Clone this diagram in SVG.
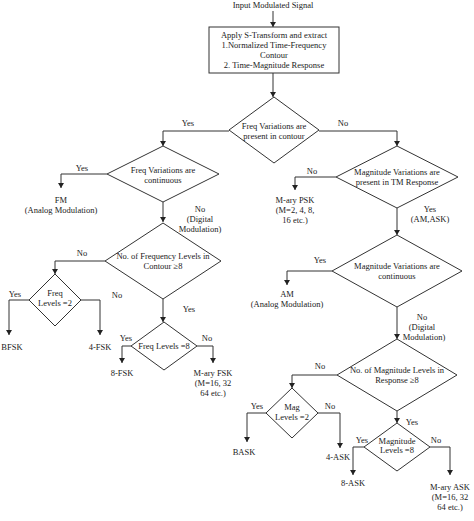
<svg xmlns="http://www.w3.org/2000/svg" width="474" height="521" viewBox="0 0 474 521">
<defs>
<style>
text{font-family:"Liberation Serif","Times New Roman",serif;font-size:8.5px;fill:#1a1a1a;text-anchor:middle}
.n{fill:#fff;stroke:#333;stroke-width:1}
.c{fill:none;stroke:#333;stroke-width:1;marker-end:url(#ah)}
</style>
<marker id="ah" markerUnits="userSpaceOnUse" markerWidth="6" markerHeight="6" refX="5" refY="3" orient="auto">
<path d="M0,0 L5,3 L0,6 z" fill="#222"/>
</marker>
</defs>
<rect width="474" height="521" fill="#fff"/>
<g id="connectors">
<polyline class="c" points="273,11 273,27"/>
<polyline class="c" points="273,73 273,97"/>
<polyline class="c" points="229,131 163,131 163,146"/>
<polyline class="c" points="107,174 61,174 61,188"/>
<polyline class="c" points="163,202 163,222"/>
<polyline class="c" points="105,261 55,261 55,274"/>
<polyline class="c" points="29,300 9,300 9,335"/>
<polyline class="c" points="81,300 100,300 100,335"/>
<polyline class="c" points="163,299 163,322"/>
<polyline class="c" points="131,346 122,346 122,363"/>
<polyline class="c" points="197,346 213,346 213,363"/>
<polyline class="c" points="319,131 397,131 397,146"/>
<polyline class="c" points="336,177 295,177 295,190"/>
<polyline class="c" points="397,208 397,235"/>
<polyline class="c" points="332,271 287,271 287,285"/>
<polyline class="c" points="397,307 397,339"/>
<polyline class="c" points="337,375 292,375 292,388"/>
<polyline class="c" points="266,413 247,413 247,442"/>
<polyline class="c" points="318,413 340,413 340,448"/>
<polyline class="c" points="397,411 397,423"/>
<polyline class="c" points="364,447 353,447 353,475"/>
<polyline class="c" points="430,447 450,447 450,475"/>
</g>
<g id="labels">
<text x="188" y="126">Yes</text>
<text x="343" y="126">No</text>
<text x="82" y="171">Yes</text>
<text x="200" y="212">No</text>
<text x="200" y="222">(Digital</text>
<text x="200" y="232">Modulation)</text>
<text x="82" y="256">No</text>
<text x="15" y="297">Yes</text>
<text x="117" y="298">No</text>
<text x="189" y="312">Yes</text>
<text x="126" y="341">Yes</text>
<text x="207" y="341">No</text>
<text x="312" y="174">No</text>
<text x="430" y="212">Yes</text>
<text x="430" y="222">(AM,ASK)</text>
<text x="320" y="263">Yes</text>
<text x="422" y="320">No</text>
<text x="422" y="330">(Digital</text>
<text x="424" y="340">Modulation)</text>
<text x="320" y="369">No</text>
<text x="412" y="425">Yes</text>
<text x="257" y="409">Yes</text>
<text x="330" y="409">No</text>
<text x="362" y="443">Yes</text>
<text x="436" y="443">No</text>
</g>
<g id="input"><text x="273" y="8">Input Modulated Signal</text></g>
<g id="transform">
<rect class="n" x="209" y="27" width="130" height="46"/>
<text x="274" y="38">Apply S-Transform and extract</text>
<text x="274" y="48">1.Normalized Time-Frequency</text>
<text x="274" y="58">Contour</text>
<text x="274" y="68">2. Time-Magnitude Response</text>
</g>
<g id="d-freq-present">
<polygon class="n" points="274,97 319,130 274,163 229,130"/>
<text x="274" y="129">Freq Variations are</text>
<text x="274" y="139">present in contour</text>
</g>
<g id="d-freq-cont">
<polygon class="n" points="163,146 219,174 163,202 107,174"/>
<text x="163" y="173">Freq Variations are</text>
<text x="163" y="183">continuous</text>
</g>
<g id="fm"><text x="61" y="203">FM</text><text x="61" y="213">(Analog Modulation)</text></g>
<g id="d-freq-levels">
<polygon class="n" points="163,223 221,261 163,299 105,261"/>
<text x="163" y="259">No. of Frequency Levels in</text>
<text x="163" y="269">Contour ≥8</text>
</g>
<g id="d-freq2">
<polygon class="n" points="55,274 81,300 55,326 29,300"/>
<text x="55" y="296">Freq</text>
<text x="55" y="306">Levels =2</text>
</g>
<g id="bfsk"><text x="12" y="350">BFSK</text></g>
<g id="fsk4"><text x="100" y="350">4-FSK</text></g>
<g id="d-freq8">
<polygon class="n" points="164,322 197,346 164,370 131,346"/>
<text x="164" y="349">Freq Levels =8</text>
</g>
<g id="fsk8"><text x="122" y="376">8-FSK</text></g>
<g id="mfsk"><text x="213" y="376">M-ary FSK</text><text x="213" y="386">(M=16, 32</text><text x="213" y="396">64 etc.)</text></g>
<g id="d-mag-present">
<polygon class="n" points="397,146 458,177 397,208 336,177"/>
<text x="397" y="175">Magnitude Variations are</text>
<text x="397" y="185">present in TM Response</text>
</g>
<g id="mpsk"><text x="295" y="203">M-ary PSK</text><text x="295" y="213">(M=2, 4, 8,</text><text x="295" y="223">16 etc.)</text></g>
<g id="d-mag-cont">
<polygon class="n" points="397,235 462,271 397,307 332,271"/>
<text x="397" y="269">Magnitude Variations are</text>
<text x="397" y="279">continuous</text>
</g>
<g id="am"><text x="287" y="297">AM</text><text x="287" y="307">(Analog Modulation)</text></g>
<g id="d-mag-levels">
<polygon class="n" points="397,339 457,375 397,411 337,375"/>
<text x="397" y="373">No. of Magnitude Levels in</text>
<text x="397" y="383">Response ≥8</text>
</g>
<g id="d-mag2">
<polygon class="n" points="292,388 318,413 292,438 266,413"/>
<text x="292" y="410">Mag</text>
<text x="292" y="420">Levels =2</text>
</g>
<g id="bask"><text x="244" y="455">BASK</text></g>
<g id="ask4"><text x="338" y="460">4-ASK</text></g>
<g id="d-mag8">
<polygon class="n" points="397,423 430,447 397,471 364,447"/>
<text x="397" y="444">Magnitude</text>
<text x="397" y="453">Levels =8</text>
</g>
<g id="ask8"><text x="353" y="486">8-ASK</text></g>
<g id="mask"><text x="450" y="490">M-ary ASK</text><text x="450" y="500">(M=16, 32</text><text x="450" y="510">64 etc.)</text></g>
</svg>
